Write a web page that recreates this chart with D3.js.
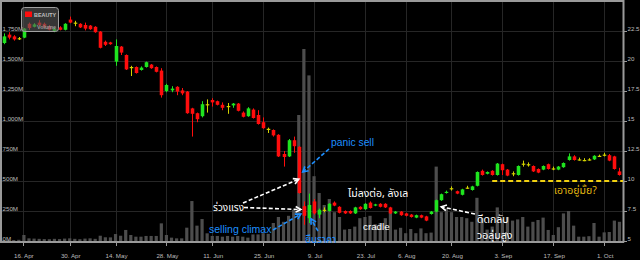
<!DOCTYPE html>
<html>
<head>
<meta charset="utf-8">
<script src="https://cdn.jsdelivr.net/npm/d3@7"></script>
<style>
html, body { margin: 0; padding: 0; background: #000; }
svg { display: block; }
text { font-family: 'Liberation Sans', Arial, sans-serif; }
.thai { font-family: 'Noto Sans Thai', 'Noto Sans Thai UI', Loma, Garuda, Tahoma, 'Noto Sans', sans-serif; }
</style>
</head>
<body>
<svg id="chart" width="640" height="260"></svg>
<script>
// ------------------------
// Data (BEAUTY, daily, 2018)
// ------------------------
const dates = [
	'2018-04-09', '2018-04-10', '2018-04-11', '2018-04-12', '2018-04-17', '2018-04-18', '2018-04-19', '2018-04-20',
	'2018-04-23', '2018-04-24', '2018-04-25', '2018-04-26', '2018-04-27', '2018-04-30',
	'2018-05-02', '2018-05-03', '2018-05-04', '2018-05-07', '2018-05-08', '2018-05-09', '2018-05-10', '2018-05-11',
	'2018-05-14', '2018-05-15', '2018-05-16', '2018-05-17', '2018-05-18', '2018-05-21', '2018-05-22', '2018-05-23',
	'2018-05-24', '2018-05-25', '2018-05-28', '2018-05-30', '2018-05-31',
	'2018-06-01', '2018-06-04', '2018-06-05', '2018-06-06', '2018-06-07', '2018-06-08', '2018-06-11', '2018-06-12',
	'2018-06-13', '2018-06-14', '2018-06-15', '2018-06-18', '2018-06-19', '2018-06-20', '2018-06-21', '2018-06-22',
	'2018-06-25', '2018-06-26', '2018-06-27', '2018-06-28', '2018-06-29',
	'2018-07-02', '2018-07-03', '2018-07-04', '2018-07-05', '2018-07-06', '2018-07-09', '2018-07-10', '2018-07-11',
	'2018-07-12', '2018-07-13', '2018-07-16', '2018-07-17', '2018-07-18', '2018-07-19', '2018-07-20', '2018-07-23',
	'2018-07-24', '2018-07-25', '2018-07-26', '2018-07-31',
	'2018-08-01', '2018-08-02', '2018-08-03', '2018-08-06', '2018-08-07', '2018-08-08', '2018-08-09', '2018-08-10',
	'2018-08-14', '2018-08-15', '2018-08-16', '2018-08-17', '2018-08-20', '2018-08-21', '2018-08-22', '2018-08-23',
	'2018-08-24', '2018-08-27', '2018-08-28', '2018-08-29', '2018-08-30', '2018-08-31',
	'2018-09-03', '2018-09-04', '2018-09-05', '2018-09-06', '2018-09-07', '2018-09-10', '2018-09-11', '2018-09-12',
	'2018-09-13', '2018-09-14', '2018-09-17', '2018-09-18', '2018-09-19', '2018-09-20', '2018-09-21', '2018-09-24',
	'2018-09-25', '2018-09-26', '2018-09-27', '2018-09-28',
	'2018-10-01', '2018-10-02', '2018-10-03', '2018-10-04',
];

const opens = [
	21.5, 22.2, 22.05, 21.9, 21.95, 23.1, 22.85, 23.2, 23.1, 22.9, 22.45, 22.8, 22.6, 23.45,
	23.2, 23.1, 23.0, 22.95, 22.85, 22.45, 21.6, 21.55, 19.95, 21.2, 20.5, 19.5, 19.5, 19.25, 19.5, 19.7,
	19.5, 19.2, 17.5, 17.55, 17.85,
	17.55, 17.45, 16.05, 15.65, 15.4, 16.4, 16.75, 16.65, 16.35, 16.25, 16.3, 16.45, 15.7, 15.4, 15.95, 15.5,
	14.9, 14.35, 14.25, 13.85, 12.25,
	12.05, 13.4, 12.85, 7.9, 6.9, 8.3, 7.2, 7.6, 7.5, 8.2, 7.85, 7.5, 7.5, 7.3, 7.85, 7.65, 8.2, 7.95, 8.1, 8.1,
	7.8, 7.3, 7.45, 7.3, 7.2, 6.95, 7.15, 7.05, 7.25, 7.45, 8.4, 9.0, 9.4, 9.15, 8.85, 9.45, 9.25, 9.6, 10.85,
	10.6, 10.85, 10.5,
	11.4, 10.95, 10.65, 10.5, 11.45, 11.4, 11.25, 11.0, 10.95, 11.4, 11.05, 10.95, 11.15, 11.75, 12.05, 11.8,
	11.75, 11.8, 11.8, 12.1,
	12.2, 12.15, 12.05, 10.8,
];

const highs = [
	22.3, 22.4, 22.15, 22.0, 22.75, 23.2, 23.15, 23.4, 23.2, 23.0, 22.75, 22.9, 23.15, 23.7,
	23.35, 23.15, 23.2, 23.0, 22.9, 22.5, 21.7, 21.6, 21.8, 21.25, 20.55, 19.6, 19.55, 19.55, 19.95, 19.75,
	19.55, 19.4, 18.1, 17.9, 17.9,
	17.75, 17.5, 16.1, 15.7, 16.65, 16.8, 16.9, 16.7, 16.55, 16.5, 16.5, 16.5, 15.8, 16.15, 16.05, 15.9,
	15.3, 14.45, 14.3, 13.9, 12.5,
	13.5, 13.7, 12.9, 8.3, 8.95, 8.5, 7.7, 7.8, 8.15, 8.3, 7.9, 7.55, 7.55, 7.85, 7.9, 8.15, 8.3, 8.1, 8.15, 8.15,
	7.85, 7.5, 7.5, 7.35, 7.25, 7.2, 7.2, 7.1, 7.5, 8.45, 8.95, 9.2, 9.55, 9.2, 9.35, 9.6, 9.6, 10.8, 10.95,
	10.8, 10.9, 11.5,
	11.45, 11.0, 10.8, 11.3, 11.7, 11.55, 11.3, 11.05, 11.3, 11.45, 11.2, 11.25, 11.55, 12.3, 12.15, 11.95,
	11.9, 11.9, 12.15, 12.2,
	12.35, 12.25, 12.1, 11.1,
];

const lows = [
	21.4, 21.8, 21.7, 21.75, 21.9, 22.6, 22.8, 22.95, 22.75, 22.55, 22.4, 22.55, 22.55, 23.15,
	22.9, 22.75, 22.55, 22.6, 22.35, 21.05, 21.25, 21.35, 19.6, 20.5, 19.25, 18.75, 18.95, 19.2, 19.45, 19.35,
	19.05, 16.95, 17.4, 17.4, 17.15,
	17.15, 15.6, 13.7, 14.9, 15.3, 15.7, 16.2, 16.3, 15.9, 15.6, 16.1, 15.8, 15.3, 15.35, 15.2, 14.7,
	14.35, 14.0, 13.7, 12.0, 11.2,
	12.0, 12.35, 8.95, 6.35, 6.5, 7.2, 6.9, 7.4, 7.45, 7.9, 7.3, 7.25, 7.25, 7.25, 7.6, 7.6, 7.7, 7.9, 7.8, 7.75,
	7.25, 7.25, 7.1, 7.05, 6.95, 6.9, 6.9, 6.65, 7.2, 7.4, 8.35, 8.95, 9.2, 8.9, 8.8, 9.35, 9.2, 9.55, 10.45,
	10.55, 10.45, 10.45,
	10.5, 10.4, 10.4, 10.45, 11.2, 11.2, 10.75, 10.65, 10.9, 10.95, 10.9, 10.9, 11.1, 11.7, 11.7, 11.7,
	11.65, 11.7, 11.75, 12.0,
	12.05, 11.65, 10.95, 10.45,
];

const closes = [
	22.05, 21.95, 21.8, 21.9, 22.7, 22.75, 23.05, 23.0, 22.8, 22.6, 22.7, 22.6, 23.1, 23.2,
	23.2, 22.8, 22.7, 22.65, 22.4, 21.1, 21.35, 21.4, 21.25, 20.7, 19.3, 19.5, 19.0, 19.45, 19.9, 19.4,
	19.1, 17.15, 18.0, 17.7, 17.45,
	17.3, 15.65, 15.6, 15.15, 16.4, 16.4, 16.55, 16.35, 16.1, 16.25, 16.45, 15.85, 15.35, 16.05, 15.25, 14.75,
	14.4, 14.35, 13.8, 12.05, 12.0,
	13.4, 12.9, 9.0, 7.1, 8.0, 7.3, 7.6, 7.6, 8.1, 7.95, 7.35, 7.3, 7.3, 7.8, 7.65, 8.1, 7.75, 8.05, 7.85, 7.8,
	7.3, 7.45, 7.15, 7.1, 7.0, 7.15, 6.95, 6.7, 7.45, 8.4, 8.9, 9.1, 9.4, 8.95, 9.3, 9.45, 9.55, 10.75, 10.5,
	10.75, 10.5, 11.45,
	10.9, 10.45, 10.65, 11.25, 11.45, 11.4, 10.8, 10.7, 11.25, 11.0, 11.05, 11.2, 11.5, 12.05, 11.75, 11.8,
	11.75, 11.8, 12.1, 12.1,
	12.2, 11.7, 11.0, 10.5,
];

// volume, millions of shares
const volumes = [
	5, 6, 8, 10, 50, 22, 20, 18, 16, 15, 18, 16, 20, 22,
	18, 15, 20, 22, 18, 44, 31, 30, 58, 44, 92, 50, 36, 36, 42, 42,
	42, 147, 50, 28, 22,
	22, 111, 333, 128, 183, 64, 42, 42, 36, 42, 36, 42, 36, 28, 55, 55,
	65, 60, 150, 200, 160,
	210, 260, 1050, 1600, 1380, 540, 400, 300, 350, 240, 200, 95, 100, 120, 190, 200, 210, 140, 150, 190,
	240, 95, 110, 65, 100, 65, 105, 65, 70, 620, 240, 270, 240, 200, 200, 190, 160, 360, 190,
	95, 120, 280,
	180, 200, 170, 180, 200, 120, 160, 175, 195, 92, 50, 115, 230, 250, 128, 36,
	36, 40, 150, 36,
	72, 75, 170, 160,
];

const priceTicks = [ 5, 7.5, 10, 12.5, 15, 17.5, 20, 22.5 ];
const volumeTicks = [ 0, 250, 500, 750, 1000, 1250, 1500, 1750 ];
const dateTicks = [
	'2018-04-16', '2018-04-30', '2018-05-14', '2018-05-28', '2018-06-11', '2018-06-25', '2018-07-09',
	'2018-07-23', '2018-08-06', '2018-08-20', '2018-09-03', '2018-09-17', '2018-10-01',
];
const dateTickLabels = [
	'16. Apr', '30. Apr', '14. May', '28. May', '11. Jun', '25. Jun', '9. Jul',
	'23. Jul', '6. Aug', '20. Aug', '3. Sep', '17. Sep', '1. Oct',
];

// hand-drawn notes: arrow tips point at a candle (date, price)
const notes = [
	{ lines: [ 'panic sell' ], color: '#1e8fff', x: 331, y: 146, size: 10.3, thai: false,
		arrows: [ { from: [ 329, 149 ], date: '2018-07-04', price: 10.75, dx: 4 } ] },
	{ lines: [ 'ร่วงแรง' ], color: '#ffffff', x: 213, y: 211, size: 10, thai: true,
		arrows: [
			{ from: [ 243, 203 ], date: '2018-07-04', price: 10.15, dx: 0 },
			{ from: [ 244, 207.5 ], date: '2018-07-05', price: 7.62, dx: -3 },
		] },
	{ lines: [ 'selling climax' ], color: '#1e8fff', x: 209, y: 233, size: 10.5, thai: false,
		arrows: [ { from: [ 273, 230 ], date: '2018-07-05', price: 7.25, dx: -3 } ] },
	{ lines: [ 'ยืนราคา' ], color: '#1e8fff', x: 305, y: 243, size: 10, thai: true,
		arrows: [ { from: [ 318, 231 ], date: '2018-07-06', price: 6.85, dx: 2 } ] },
	{ lines: [ 'ไม่ลงต่อ, ลังเล' ], color: '#ffffff', x: 348, y: 197, size: 10.5, thai: true, arrows: [] },
	{ lines: [ 'cradle' ], color: '#ffffff', x: 363, y: 229.5, size: 9.8, thai: false, arrows: [] },
	{ lines: [ 'ดีดกลับ', 'วอลุ่มสูง' ], color: '#ffffff', x: 477, y: 223, size: 10.5, thai: true,
		arrows: [ { from: [ 475, 214 ], date: '2018-08-15', price: 7.85, dx: 5 } ] },
	{ lines: [ 'เอาอยู่มั้ย?' ], color: '#e2b812', x: 554, y: 194, size: 10.5, thai: true, arrows: [] },
];
const supportPrice = 10;
const supportFrom = '2018-08-30';

// ------------------------
// Chart
// ------------------------
const svg = d3.select( '#chart' );
const plot = { left: 1, right: 622, top: 1, bottom: 241 };
const parse = d3.timeParse( '%Y-%m-%d' );
const times = dates.map( parse );

const x = d3.scaleBand()
	.domain( dates )
	.range( [ plot.left, plot.right ] );
const step = x.step();
const cx = d => x( d ) + step / 2;

const yPrice = d3.scaleLinear().domain( [ 5, 25 ] ).range( [ plot.bottom, plot.top ] );
const yVol = d3.scaleLinear().domain( [ 0, 2000 ] ).range( [ plot.bottom, plot.top ] );

// ordinal axis: a calendar date between trading days is interpolated
function ordinalX( dateStr ) {
	const t = parse( dateStr );
	const i = d3.bisectRight( times, t ) - 1;
	if ( i < 0 ) return cx( dates[ 0 ] );
	if ( i >= times.length - 1 || +times[ i ] === +t ) return cx( dates[ i ] );
	const f = ( t - times[ i ] ) / ( times[ i + 1 ] - times[ i ] );
	return cx( dates[ i ] ) + f * step;
}

const candles = dates.map( ( d, i ) => ( {
	date: d, open: opens[ i ], high: highs[ i ], low: lows[ i ], close: closes[ i ], volume: volumes[ i ],
} ) );

svg.append( 'rect' ).attr( 'width', 640 ).attr( 'height', 260 ).attr( 'fill', '#000' );

// grid
const grid = svg.append( 'g' ).attr( 'stroke', '#262626' ).attr( 'stroke-width', 1 );
grid.selectAll( 'line.h' )
	.data( priceTicks )
	.join( 'line' )
	.attr( 'x1', plot.left ).attr( 'x2', plot.right + 1 )
	.attr( 'y1', d => Math.round( yPrice( d ) ) + 0.5 )
	.attr( 'y2', d => Math.round( yPrice( d ) ) + 0.5 );
grid.selectAll( 'line.v' )
	.data( dateTicks )
	.join( 'line' )
	.attr( 'x1', d => Math.round( ordinalX( d ) ) + 0.5 )
	.attr( 'x2', d => Math.round( ordinalX( d ) ) + 0.5 )
	.attr( 'y1', plot.top ).attr( 'y2', plot.bottom );

// volume
svg.append( 'g' )
	.selectAll( 'rect' )
	.data( candles )
	.join( 'rect' )
	.attr( 'x', d => cx( d.date ) - 1.6 )
	.attr( 'width', 3.2 )
	.attr( 'y', d => yVol( d.volume ) )
	.attr( 'height', d => plot.bottom - yVol( d.volume ) )
	.attr( 'fill', '#4d4d4d' );

// candles
const colorOf = d => d.close > d.open ? '#1fe41f' : d.close < d.open ? '#ff0d0d' : '#d2d200';
const bodyW = step * 0.7;
const cg = svg.append( 'g' )
	.selectAll( 'g' )
	.data( candles )
	.join( 'g' );
cg.append( 'line' )
	.attr( 'x1', d => Math.round( cx( d.date ) ) + 0.5 )
	.attr( 'x2', d => Math.round( cx( d.date ) ) + 0.5 )
	.attr( 'y1', d => yPrice( d.high ) )
	.attr( 'y2', d => yPrice( d.low ) )
	.attr( 'stroke', colorOf )
	.attr( 'stroke-width', 1 );
cg.append( 'rect' )
	.attr( 'x', d => Math.round( cx( d.date ) ) + 0.5 - bodyW / 2 )
	.attr( 'width', bodyW )
	.attr( 'y', d => yPrice( Math.max( d.open, d.close ) ) )
	.attr( 'height', d => Math.max( 1.2, Math.abs( yPrice( d.open ) - yPrice( d.close ) ) ) )
	.attr( 'fill', colorOf );

// frame and axis lines
const frame = svg.append( 'g' ).attr( 'stroke', '#9a9a9a' ).attr( 'fill', 'none' );
frame.append( 'line' ).attr( 'x1', 0 ).attr( 'x2', plot.right + 1.5 ).attr( 'y1', 1 ).attr( 'y2', 1 ).attr( 'stroke-width', 2 );
frame.append( 'line' ).attr( 'x1', 1 ).attr( 'x2', 1 ).attr( 'y1', 0 ).attr( 'y2', plot.bottom + 1 ).attr( 'stroke-width', 2 );
frame.append( 'line' ).attr( 'x1', plot.right + 1.5 ).attr( 'x2', plot.right + 1.5 ).attr( 'y1', 0 ).attr( 'y2', plot.bottom + 1.5 ).attr( 'stroke-width', 2 );
frame.append( 'line' ).attr( 'x1', 0 ).attr( 'x2', plot.right + 2 ).attr( 'y1', plot.bottom + 1 ).attr( 'y2', plot.bottom + 1 ).attr( 'stroke-width', 2 );

frame.selectAll( 'line.rt' )
	.data( priceTicks )
	.join( 'line' )
	.attr( 'x1', plot.right + 2 ).attr( 'x2', plot.right + 5 )
	.attr( 'y1', d => Math.round( yPrice( d ) ) + 0.5 )
	.attr( 'y2', d => Math.round( yPrice( d ) ) + 0.5 );
frame.selectAll( 'line.bt' )
	.data( dateTicks )
	.join( 'line' )
	.attr( 'x1', d => Math.round( ordinalX( d ) ) + 0.5 )
	.attr( 'x2', d => Math.round( ordinalX( d ) ) + 0.5 )
	.attr( 'y1', plot.bottom + 2 ).attr( 'y2', plot.bottom + 5 );

// axis labels
const fmtVol = d3.format( ',' );
svg.append( 'g' )
	.selectAll( 'text' )
	.data( volumeTicks )
	.join( 'text' )
	.attr( 'x', 2.5 )
	.attr( 'y', d => yVol( d ) - 0.5 )
	.attr( 'font-size', 6.2 )
	.attr( 'fill', '#bcbcbc' )
	.text( d => `${ fmtVol( d ) }M` );
svg.append( 'g' )
	.selectAll( 'text' )
	.data( priceTicks )
	.join( 'text' )
	.attr( 'x', plot.right + 5.5 )
	.attr( 'y', d => yPrice( d ) - 0.5 )
	.attr( 'font-size', 6.2 )
	.attr( 'fill', '#bcbcbc' )
	.text( d => d );
svg.append( 'g' )
	.selectAll( 'text' )
	.data( dateTicks )
	.join( 'text' )
	.attr( 'x', d => ordinalX( d ) + 1 )
	.attr( 'y', 257.5 )
	.attr( 'font-size', 6.2 )
	.attr( 'fill', '#bcbcbc' )
	.attr( 'text-anchor', 'middle' )
	.text( ( d, i ) => dateTickLabels[ i ] );

// legend
const legend = svg.append( 'g' );
legend.append( 'rect' )
	.attr( 'x', 21.5 ).attr( 'y', 7.5 ).attr( 'width', 37 ).attr( 'height', 24 ).attr( 'rx', 3 )
	.attr( 'fill', '#5a5a5a' ).attr( 'fill-opacity', 0.6 )
	.attr( 'stroke', '#a0a0a0' ).attr( 'stroke-width', 1 );
legend.append( 'rect' )
	.attr( 'x', 25 ).attr( 'y', 11.5 ).attr( 'width', 7 ).attr( 'height', 5.5 ).attr( 'fill', '#ff0d0d' );
legend.append( 'text' )
	.attr( 'x', 34 ).attr( 'y', 17 ).attr( 'font-size', 5.4 ).attr( 'font-weight', 'bold' )
	.attr( 'fill', '#c0c0c0' ).text( 'BEAUTY' );
legend.append( 'text' )
	.attr( 'x', 37 ).attr( 'y', 28.5 ).attr( 'font-size', 5.4 ).attr( 'font-weight', 'bold' )
	.attr( 'fill', '#9a9a9a' ).text( 'Volume' );

// support line
svg.append( 'line' )
	.attr( 'x1', cx( supportFrom ) ).attr( 'x2', plot.right + 1 )
	.attr( 'y1', yPrice( supportPrice ) ).attr( 'y2', yPrice( supportPrice ) )
	.attr( 'stroke', '#f0d010' ).attr( 'stroke-width', 2 )
	.attr( 'stroke-dasharray', '5,3' );

// notes
const ng = svg.append( 'g' );
notes.forEach( note => {
	note.arrows.forEach( a => {
		const tx = cx( a.date ) + a.dx;
		const ty = yPrice( a.price );
		const [ fx, fy ] = a.from;
		ng.append( 'line' )
			.attr( 'x1', fx ).attr( 'y1', fy ).attr( 'x2', tx ).attr( 'y2', ty )
			.attr( 'stroke', note.color ).attr( 'stroke-width', 1.6 )
			.attr( 'stroke-dasharray', '4,2.2' );
		const ang = Math.atan2( ty - fy, tx - fx );
		const len = 6;
		const p1 = [ tx - len * Math.cos( ang - 0.5 ), ty - len * Math.sin( ang - 0.5 ) ];
		const p2 = [ tx - len * Math.cos( ang + 0.5 ), ty - len * Math.sin( ang + 0.5 ) ];
		ng.append( 'path' )
			.attr( 'd', `M${ p1 }L${ tx },${ ty }L${ p2 }` )
			.attr( 'fill', 'none' ).attr( 'stroke', note.color ).attr( 'stroke-width', 1.6 );
	} );
	note.lines.forEach( ( line, i ) => {
		ng.append( 'text' )
			.attr( 'class', note.thai ? 'thai' : null )
			.attr( 'x', note.x ).attr( 'y', note.y + i * 16 )
			.attr( 'font-size', note.size )
			.attr( 'fill', note.color )
			.text( line );
	} );
} );
</script>
</body>
</html>
